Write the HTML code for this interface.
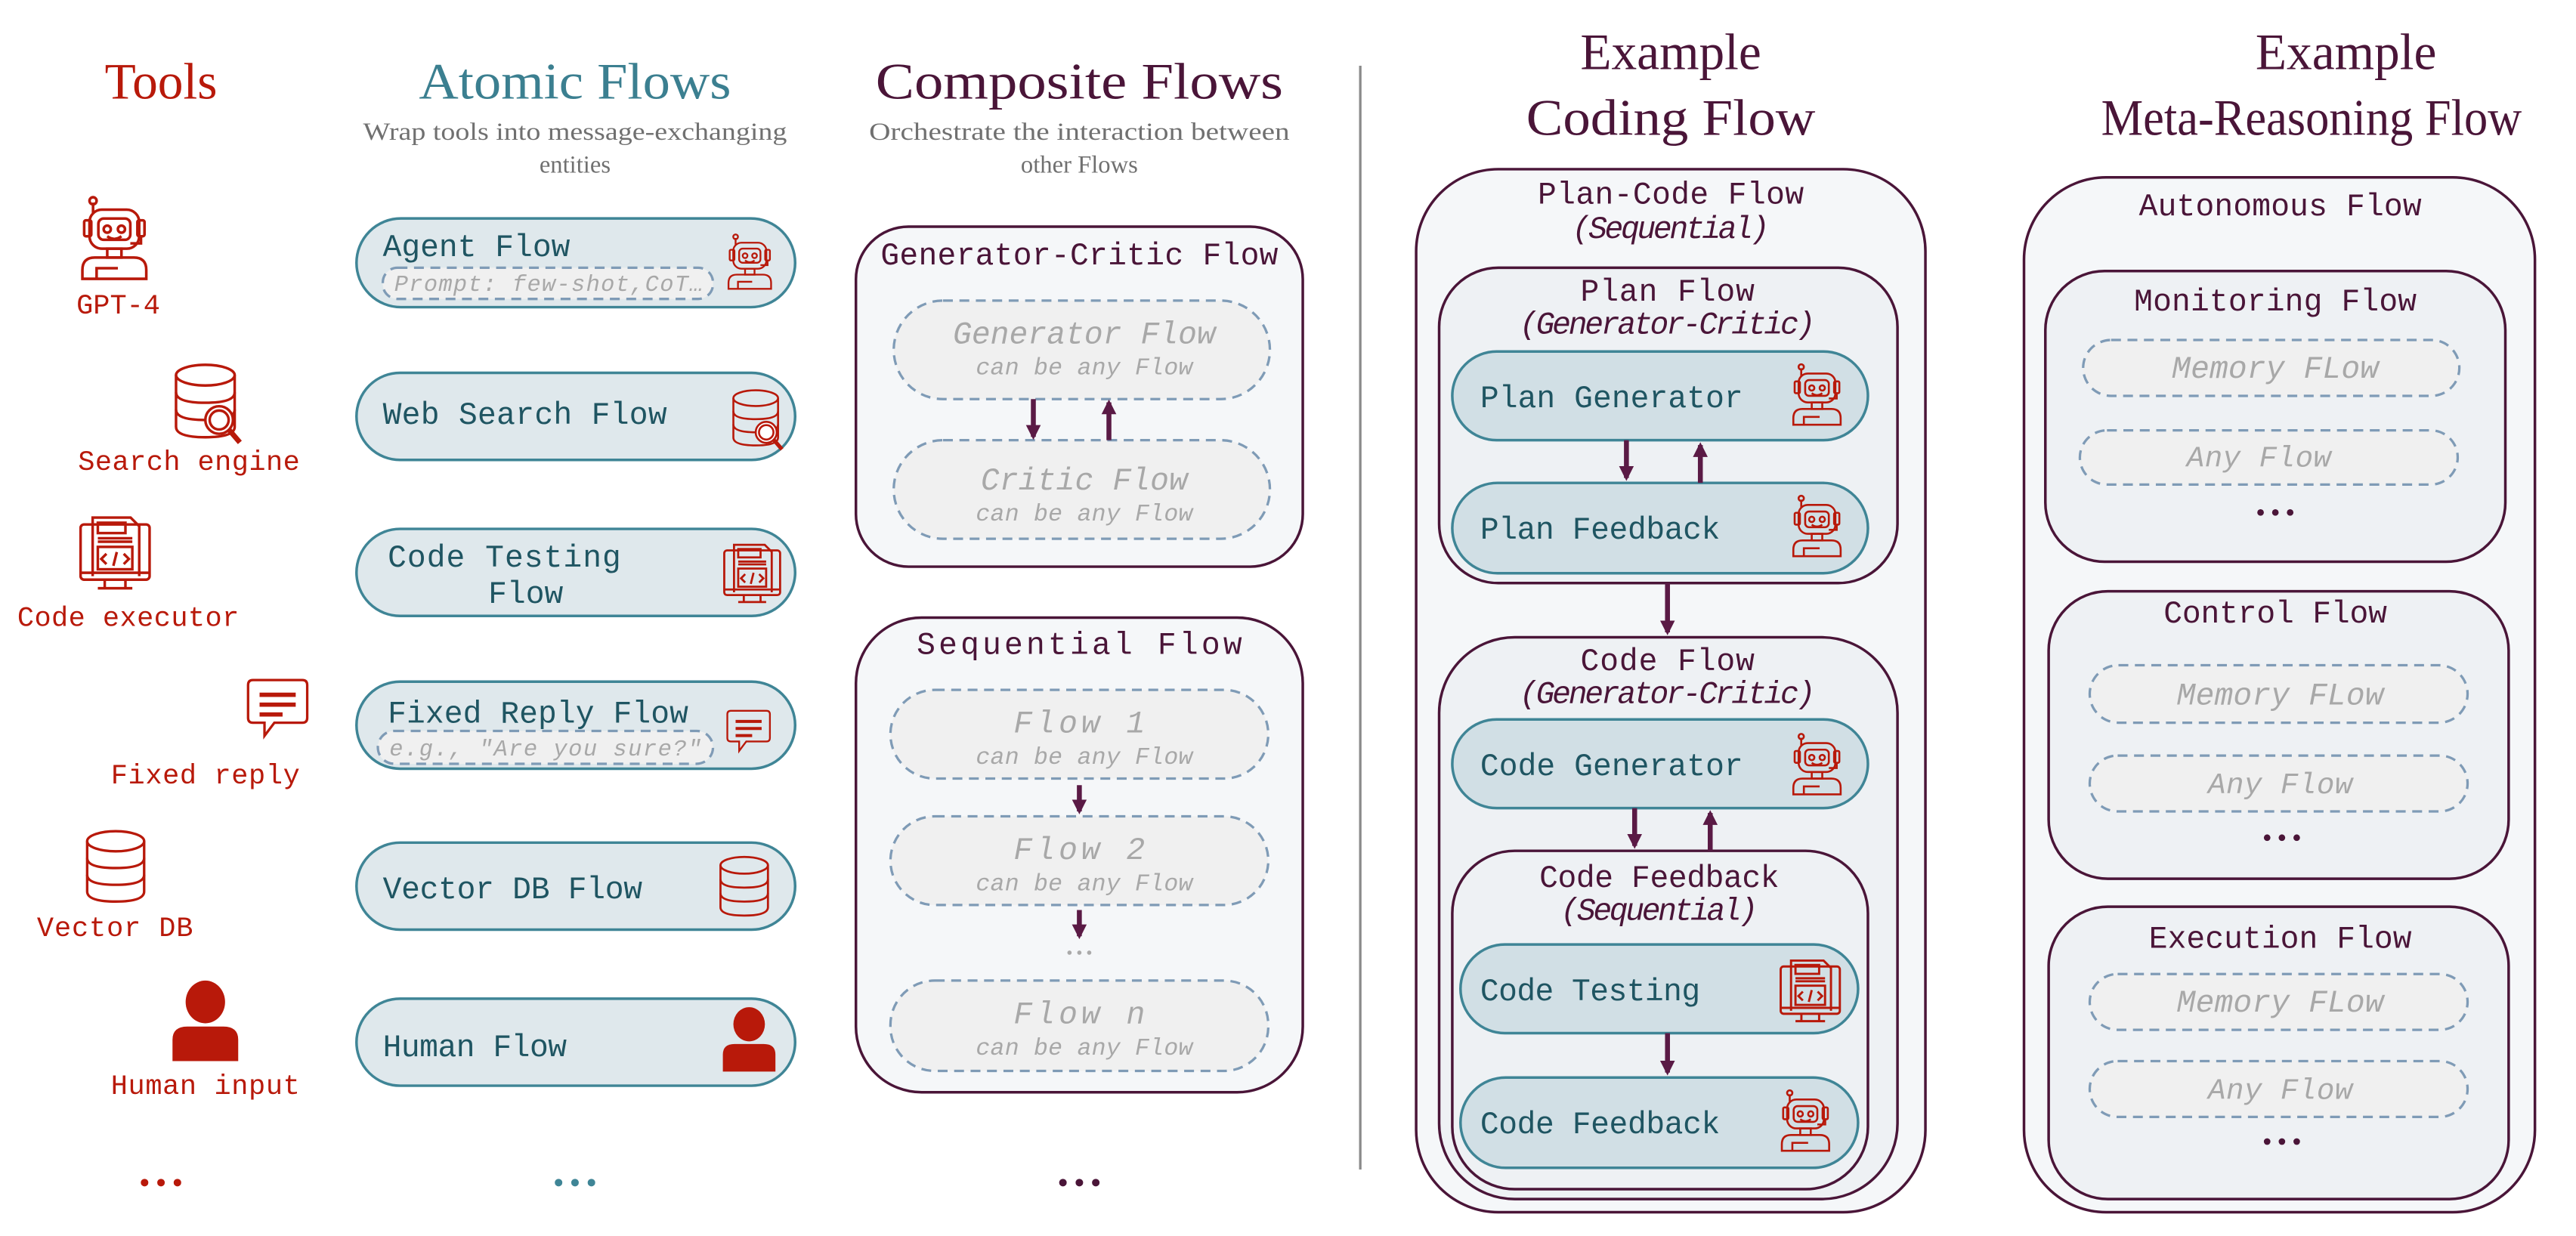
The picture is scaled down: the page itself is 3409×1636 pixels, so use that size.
<!DOCTYPE html>
<html><head><meta charset="utf-8"><style>
html,body{margin:0;padding:0;background:#fff;}
svg{display:block;}
.mono{font-family:"Liberation Mono","DejaVu Sans Mono",monospace;}
.serif{font-family:"Liberation Serif",serif;}
.red{fill:#b8190a;}
.at{fill:#1f5562;font-size:19px;}
.pt{fill:#4a1538;font-size:19px;}
.gi{fill:#a8a8a8;font-style:italic;}
.abox{fill:#dfe8ec;stroke:#3f8596;stroke-width:1.6;}
.ibox{fill:#d1dfe5;stroke:#3f8596;stroke-width:1.6;}
.pbox{fill:#f5f7f9;stroke:#4a1538;stroke-width:1.6;}
.pbox2{fill:#eef1f4;stroke:#4a1538;stroke-width:1.6;}
.dbox{fill:#f0f0f0;stroke:#7f9bb6;stroke-width:1.5;stroke-dasharray:6 4;}
.ic{fill:none;stroke:#b8190a;stroke-width:1.5;}
.arr{stroke:#5a1a45;stroke-width:3;}
</style></head><body>
<svg width="3409" height="1636" viewBox="0 0 1568 752.5" preserveAspectRatio="none" xmlns="http://www.w3.org/2000/svg">
<defs>
<marker id="ah" viewBox="0 0 10 10" refX="8" refY="5" markerWidth="3" markerHeight="3" orient="auto"><path d="M0 0L10 5L0 10z" fill="#5a1a45"/></marker>
<g id="robot" class="ic">
 <line x1="8" y1="4" x2="8" y2="10"/><circle cx="8" cy="3" r="2"/>
 <rect x="6" y="8" width="28" height="22" rx="7"/>
 <rect x="11" y="13" width="18" height="12" rx="3"/>
 <circle cx="16" cy="19" r="2"/><circle cx="24" cy="19" r="2"/>
 <path d="M16 23q4 3 8 0"/>
 <rect x="3" y="14" width="4" height="9" rx="1"/><rect x="33" y="14" width="4" height="9" rx="1"/>
 <path d="M35 23v4h-6"/>
 <rect x="16" y="30" width="8" height="5"/>
 <path d="M2 47v-5q0-7 7-7h22q7 0 7 7v5z"/><path d="M10 47v-6h12"/>
</g>
<g id="db" class="ic">
 <ellipse cx="20" cy="8" rx="17" ry="6"/>
 <path d="M3 8v30q0 6 17 6t17-6V8"/>
 <path d="M3 18q0 6 17 6t17-6"/><path d="M3 28q0 6 17 6t17-6"/>
</g>
<g id="dbs" class="ic">
 <use href="#db"/>
 <circle cx="28" cy="34" r="8" fill="#fff"/><circle cx="28" cy="34" r="5.5"/>
 <path d="M34 40l6 7" stroke-width="3"/>
</g>
<g id="code" class="ic">
 <rect x="1" y="6" width="40" height="32" rx="2"/>
 <path d="M1 34h40"/><path d="M15 38v5h12v-5M11 43h20"/>
 <path d="M8 36V2h22l5 5v29"/>
 <rect x="11" y="5" width="16" height="6"/>
 <path d="M11 14h20M11 16h20"/>
 <rect x="11" y="19" width="20" height="13"/>
 <path d="M16 23l-3 3 3 3M26 23l3 3-3 3M22 22l-2 8"/>
</g>
<g id="chat" class="ic" stroke-width="2.2">
 <path d="M4 1h30q3 0 3 3v20q0 3-3 3H17l-6 8v-8H4q-3 0-3-3V4q0-3 3-3z"/>
 <path d="M8 10h22M8 16h22M8 22h14" stroke-width="2.6"/>
</g>
<g id="person" fill="#b8190a">
 <ellipse cx="20" cy="12" rx="12" ry="13"/>
 <path d="M0 48V35q0-8 9-8h22q9 0 9 8v13z"/>
</g>
</defs>

<text x="98" y="60" text-anchor="middle" class="serif red" font-size="31">Tools</text>
<text x="350" y="60" text-anchor="middle" class="serif" fill="#3b7f90" font-size="31" textLength="190" lengthAdjust="spacingAndGlyphs">Atomic Flows</text>
<text x="350" y="85" text-anchor="middle" class="serif" fill="#707070" font-size="15" textLength="258" lengthAdjust="spacingAndGlyphs">Wrap tools into message-exchanging</text>
<text x="350" y="105" text-anchor="middle" class="serif" fill="#707070" font-size="15">entities</text>
<text x="657" y="60" text-anchor="middle" class="serif" fill="#4a1538" font-size="31" textLength="248" lengthAdjust="spacingAndGlyphs">Composite Flows</text>
<text x="657" y="85" text-anchor="middle" class="serif" fill="#707070" font-size="15" textLength="256" lengthAdjust="spacingAndGlyphs">Orchestrate the interaction between</text>
<text x="657" y="105" text-anchor="middle" class="serif" fill="#707070" font-size="15">other Flows</text>
<text x="1017" y="42" text-anchor="middle" class="serif" fill="#4a1538" font-size="31">Example</text>
<text x="1017" y="82" text-anchor="middle" class="serif" fill="#4a1538" font-size="31" textLength="176" lengthAdjust="spacingAndGlyphs">Coding Flow</text>
<text x="1428" y="42" text-anchor="middle" class="serif" fill="#4a1538" font-size="31">Example</text>
<text x="1407" y="82" text-anchor="middle" class="serif" fill="#4a1538" font-size="31" textLength="256" lengthAdjust="spacingAndGlyphs">Meta-Reasoning Flow</text>

<line x1="828" y1="40" x2="828" y2="712" stroke="#8a8a8a" stroke-width="1.5"/>

<g transform="translate(48 119) scale(1.08)"><use href="#robot"/></g>
<text x="72" y="191" text-anchor="middle" class="mono red" font-size="17">GPT-4</text>
<g transform="translate(104 220) scale(1.05)"><use href="#dbs"/></g>
<text x="115" y="286" text-anchor="middle" class="mono red" font-size="17" textLength="135" lengthAdjust="spacing">Search engine</text>
<g transform="translate(48 313) scale(1.05)"><use href="#code"/></g>
<text x="78" y="381" text-anchor="middle" class="mono red" font-size="17" textLength="135" lengthAdjust="spacing">Code executor</text>
<g transform="translate(150 413)"><use href="#chat"/></g>
<text x="125" y="477" text-anchor="middle" class="mono red" font-size="17" textLength="115" lengthAdjust="spacing">Fixed reply</text>
<g transform="translate(50 504) scale(1.02)"><use href="#db"/></g>
<text x="70" y="570" text-anchor="middle" class="mono red" font-size="17" textLength="95" lengthAdjust="spacing">Vector DB</text>
<g transform="translate(105 598) scale(1.0)"><use href="#person"/></g>
<text x="125" y="666" text-anchor="middle" class="mono red" font-size="17" textLength="115" lengthAdjust="spacing">Human input</text>
<g class="red"><circle cx="88" cy="720" r="2.3"/><circle cx="98" cy="720" r="2.3"/><circle cx="108" cy="720" r="2.3"/></g>

<rect x="217" y="133" width="267" height="54" rx="27" class="abox"/>
<text x="233" y="156" class="mono at" textLength="114" lengthAdjust="spacing">Agent Flow</text>
<rect x="233" y="163" width="201" height="19" rx="9" class="dbox" stroke-dasharray="4 3"/>
<text x="240" y="177" class="mono gi" font-size="14" textLength="188" lengthAdjust="spacing">Prompt: few-shot,CoT…</text>
<g transform="translate(442 142) scale(0.72)"><use href="#robot"/></g>

<rect x="217" y="227" width="267" height="53" rx="26.5" class="abox"/>
<text x="233" y="258" class="mono at" textLength="173" lengthAdjust="spacing">Web Search Flow</text>
<g transform="translate(444 236) scale(0.8)"><use href="#dbs"/></g>

<rect x="217" y="322" width="267" height="53" rx="26.5" class="abox"/>
<text x="307" y="345" text-anchor="middle" class="mono at" textLength="142" lengthAdjust="spacing">Code Testing</text>
<text x="320" y="367" text-anchor="middle" class="mono at">Flow</text>
<g transform="translate(440 330) scale(0.85)"><use href="#code"/></g>

<rect x="217" y="415" width="267" height="53" rx="26.5" class="abox"/>
<text x="236" y="440" class="mono at" textLength="183" lengthAdjust="spacing">Fixed Reply Flow</text>
<rect x="230" y="445" width="204" height="20" rx="10" class="dbox" stroke-dasharray="4 3"/>
<text x="237" y="460" class="mono gi" font-size="14" textLength="190" lengthAdjust="spacing">e.g., "Are you sure?"</text>
<g transform="translate(442 432) scale(0.72)"><use href="#chat"/></g>

<rect x="217" y="513" width="267" height="53" rx="26.5" class="abox"/>
<text x="233" y="547" class="mono at" textLength="158" lengthAdjust="spacing">Vector DB Flow</text>
<g transform="translate(436 520) scale(0.85)"><use href="#db"/></g>

<rect x="217" y="608" width="267" height="53" rx="26.5" class="abox"/>
<text x="233" y="643" class="mono at" textLength="112" lengthAdjust="spacing">Human Flow</text>
<g transform="translate(440 614) scale(0.8)"><use href="#person"/></g>
<g fill="#3f8596"><circle cx="340" cy="720" r="2.3"/><circle cx="350" cy="720" r="2.3"/><circle cx="360" cy="720" r="2.3"/></g>

<rect x="521" y="138" width="272" height="207" rx="32" class="pbox"/>
<text x="657" y="161" text-anchor="middle" class="mono pt" textLength="242" lengthAdjust="spacing">Generator-Critic Flow</text>
<rect x="544" y="183" width="229" height="60" rx="30" class="dbox"/>
<text x="660" y="209" text-anchor="middle" class="mono gi" font-size="19" textLength="160" lengthAdjust="spacing">Generator Flow</text>
<text x="660" y="228" text-anchor="middle" class="mono gi" font-size="14.5" textLength="132" lengthAdjust="spacing">can be any Flow</text>
<rect x="544" y="268" width="229" height="60" rx="30" class="dbox"/>
<text x="660" y="298" text-anchor="middle" class="mono gi" font-size="19" textLength="126" lengthAdjust="spacing">Critic Flow</text>
<text x="660" y="317" text-anchor="middle" class="mono gi" font-size="14.5" textLength="132" lengthAdjust="spacing">can be any Flow</text>
<line x1="629" y1="243" x2="629" y2="266" class="arr" marker-end="url(#ah)"/>
<line x1="675" y1="268" x2="675" y2="245" class="arr" marker-end="url(#ah)"/>

<rect x="521" y="376" width="272" height="289" rx="40" class="pbox"/>
<text x="657" y="398" text-anchor="middle" class="mono pt" textLength="198" lengthAdjust="spacing">Sequential Flow</text>
<rect x="542" y="420" width="230" height="54" rx="27" class="dbox"/>
<text x="657" y="446" text-anchor="middle" class="mono gi" font-size="19" textLength="80" lengthAdjust="spacing">Flow 1</text>
<text x="660" y="465" text-anchor="middle" class="mono gi" font-size="14.5" textLength="132" lengthAdjust="spacing">can be any Flow</text>
<line x1="657" y1="478" x2="657" y2="494" class="arr" marker-end="url(#ah)"/>
<rect x="542" y="497" width="230" height="54" rx="27" class="dbox"/>
<text x="657" y="523" text-anchor="middle" class="mono gi" font-size="19" textLength="80" lengthAdjust="spacing">Flow 2</text>
<text x="660" y="542" text-anchor="middle" class="mono gi" font-size="14.5" textLength="132" lengthAdjust="spacing">can be any Flow</text>
<line x1="657" y1="554" x2="657" y2="570" class="arr" marker-end="url(#ah)"/>
<g fill="#aaa"><circle cx="651" cy="580" r="1.3"/><circle cx="657" cy="580" r="1.3"/><circle cx="663" cy="580" r="1.3"/></g>
<rect x="542" y="597" width="230" height="55" rx="27" class="dbox"/>
<text x="657" y="623" text-anchor="middle" class="mono gi" font-size="19" textLength="80" lengthAdjust="spacing">Flow n</text>
<text x="660" y="642" text-anchor="middle" class="mono gi" font-size="14.5" textLength="132" lengthAdjust="spacing">can be any Flow</text>
<g fill="#4a1538"><circle cx="647" cy="720" r="2.3"/><circle cx="657" cy="720" r="2.3"/><circle cx="667" cy="720" r="2.3"/></g>

<rect x="862" y="103" width="310" height="635" rx="50" class="pbox"/>
<text x="1017" y="124" text-anchor="middle" class="mono pt" textLength="162" lengthAdjust="spacing">Plan-Code Flow</text>
<text x="1017" y="145" text-anchor="middle" class="mono pt" font-size="17" font-style="italic" textLength="120" lengthAdjust="spacing">(Sequential)</text>
<rect x="876" y="163" width="279" height="192" rx="36" class="pbox2" fill="#f0f2f5"/>
<text x="1015" y="183" text-anchor="middle" class="mono pt" textLength="106" lengthAdjust="spacing">Plan Flow</text>
<text x="1015" y="203" text-anchor="middle" class="mono pt" font-size="17" font-style="italic" textLength="180" lengthAdjust="spacing">(Generator-Critic)</text>
<rect x="884" y="214" width="253" height="54" rx="27" class="ibox"/>
<text x="901" y="248" class="mono at" textLength="160" lengthAdjust="spacing">Plan Generator</text>
<g transform="translate(1090 221) scale(0.8)"><use href="#robot"/></g>
<rect x="884" y="294" width="253" height="55" rx="27.5" class="ibox"/>
<text x="901" y="328" class="mono at" textLength="146" lengthAdjust="spacing">Plan Feedback</text>
<g transform="translate(1090 301) scale(0.8)"><use href="#robot"/></g>
<line x1="990" y1="268" x2="990" y2="291" class="arr" marker-end="url(#ah)"/>
<line x1="1035" y1="294" x2="1035" y2="271" class="arr" marker-end="url(#ah)"/>
<line x1="1015" y1="355" x2="1015" y2="385" class="arr" marker-end="url(#ah)"/>

<rect x="876" y="388" width="279" height="342" rx="46" class="pbox2"/>
<text x="1015" y="408" text-anchor="middle" class="mono pt" textLength="106" lengthAdjust="spacing">Code Flow</text>
<text x="1015" y="428" text-anchor="middle" class="mono pt" font-size="17" font-style="italic" textLength="180" lengthAdjust="spacing">(Generator-Critic)</text>
<rect x="884" y="438" width="253" height="54" rx="27" class="ibox"/>
<text x="901" y="472" class="mono at" textLength="160" lengthAdjust="spacing">Code Generator</text>
<g transform="translate(1090 446) scale(0.8)"><use href="#robot"/></g>
<rect x="884" y="518" width="253" height="206" rx="38" class="pbox2" fill="#e7ebf0"/>
<text x="1010" y="540" text-anchor="middle" class="mono pt" textLength="146" lengthAdjust="spacing">Code Feedback</text>
<text x="1010" y="560" text-anchor="middle" class="mono pt" font-size="17" font-style="italic" textLength="120" lengthAdjust="spacing">(Sequential)</text>
<line x1="995" y1="492" x2="995" y2="515" class="arr" marker-end="url(#ah)"/>
<line x1="1041" y1="518" x2="1041" y2="495" class="arr" marker-end="url(#ah)"/>
<rect x="889" y="575" width="242" height="54" rx="27" class="ibox" fill="#cbdae1"/>
<text x="901" y="609" class="mono at" textLength="134" lengthAdjust="spacing">Code Testing</text>
<g transform="translate(1083 583) scale(0.9)"><use href="#code"/></g>
<line x1="1015" y1="629" x2="1015" y2="653" class="arr" marker-end="url(#ah)"/>
<rect x="889" y="656" width="242" height="55" rx="27.5" class="ibox" fill="#cbdae1"/>
<text x="901" y="690" class="mono at" textLength="146" lengthAdjust="spacing">Code Feedback</text>
<g transform="translate(1083 663) scale(0.8)"><use href="#robot"/></g>

<rect x="1232" y="108" width="311" height="630" rx="50" class="pbox"/>
<text x="1388" y="131" text-anchor="middle" class="mono pt" textLength="172" lengthAdjust="spacing">Autonomous Flow</text>

<rect x="1245" y="165" width="280" height="177" rx="36" class="pbox2"/>
<text x="1385" y="189" text-anchor="middle" class="mono pt" textLength="172" lengthAdjust="spacing">Monitoring Flow</text>
<rect x="1268" y="207" width="229" height="34" rx="17" class="dbox"/>
<text x="1385" y="230" text-anchor="middle" class="mono gi" font-size="19" textLength="126" lengthAdjust="spacing">Memory FLow</text>
<rect x="1266" y="262" width="230" height="33" rx="16.5" class="dbox"/>
<text x="1375" y="284" text-anchor="middle" class="mono gi" font-size="18" textLength="88" lengthAdjust="spacing">Any Flow</text>
<g fill="#4a1538"><circle cx="1376" cy="312" r="2"/><circle cx="1385" cy="312" r="2"/><circle cx="1394" cy="312" r="2"/></g>

<rect x="1247" y="360" width="280" height="175" rx="36" class="pbox2"/>
<text x="1385" y="379" text-anchor="middle" class="mono pt" textLength="136" lengthAdjust="spacing">Control Flow</text>
<rect x="1272" y="405" width="230" height="35" rx="17.5" class="dbox"/>
<text x="1388" y="429" text-anchor="middle" class="mono gi" font-size="19" textLength="126" lengthAdjust="spacing">Memory FLow</text>
<rect x="1272" y="460" width="230" height="34" rx="17" class="dbox"/>
<text x="1388" y="483" text-anchor="middle" class="mono gi" font-size="18" textLength="88" lengthAdjust="spacing">Any Flow</text>
<g fill="#4a1538"><circle cx="1380" cy="510" r="2"/><circle cx="1389" cy="510" r="2"/><circle cx="1398" cy="510" r="2"/></g>

<rect x="1247" y="552" width="280" height="178" rx="36" class="pbox2"/>
<text x="1388" y="577" text-anchor="middle" class="mono pt" textLength="160" lengthAdjust="spacing">Execution Flow</text>
<rect x="1272" y="593" width="230" height="34" rx="17" class="dbox"/>
<text x="1388" y="616" text-anchor="middle" class="mono gi" font-size="19" textLength="126" lengthAdjust="spacing">Memory FLow</text>
<rect x="1272" y="646" width="230" height="34" rx="17" class="dbox"/>
<text x="1388" y="669" text-anchor="middle" class="mono gi" font-size="18" textLength="88" lengthAdjust="spacing">Any Flow</text>
<g fill="#4a1538"><circle cx="1380" cy="695" r="2"/><circle cx="1389" cy="695" r="2"/><circle cx="1398" cy="695" r="2"/></g>
</svg>
</body></html>
